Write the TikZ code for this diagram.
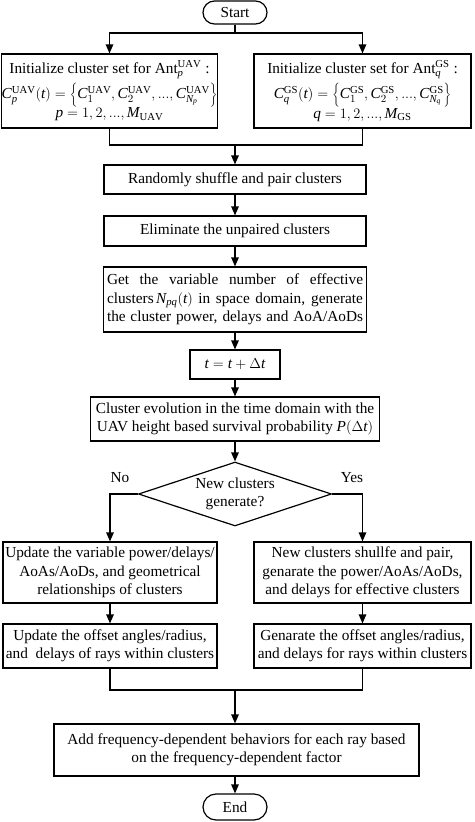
\documentclass[tikz,border=0pt]{standalone}
\usepackage{fontspec}
\setmainfont{Liberation Serif}
\usetikzlibrary{arrows.meta,shapes.geometric,shapes.misc}
\begin{document}
\begin{tikzpicture}[x=1pt,y=-1pt,
  every node/.style={font=\fontsize{15.3pt}{18.5pt}\selectfont, inner sep=0pt},
  box/.style={draw, line width=1.2pt, align=center, rectangle},
  term/.style={draw, line width=1.2pt, rounded rectangle},
  arr/.style={line width=1.2pt, -{Triangle[length=9pt,width=7.5pt]}},
  ln/.style={line width=1.2pt}]
\fill[white] (0,0) rectangle (474,822);
\useasboundingbox (0,0) rectangle (474,822);

\node[term, minimum width=64pt, minimum height=23pt] (start) at (235,12.5) {Start};

\node[box, minimum width=214pt, minimum height=74pt] (init1) at (109.5,91)
 {Initialize cluster set for Ant$_{\mathit{p}}^{\mathrm{UAV}}$ :\\[3pt]
  $\mathit{C}_{\mathit{p}}^{\mathrm{UAV}}(\mathit{t})=\left\{\mathit{C}_1^{\mathrm{UAV}},\mathit{C}_2^{\mathrm{UAV}},...,\mathit{C}_{\mathit{N}_{\mathit{p}}}^{\mathrm{UAV}}\right\}$\\[1pt]
  $\mathit{p}=1,2,...,\mathit{M}_{\mathrm{UAV}}$};
\node[box, minimum width=217pt, minimum height=74pt] (init2) at (362.5,91)
 {Initialize cluster set for Ant$_{\mathit{q}}^{\mathrm{GS}}$ :\\[3pt]
  $\mathit{C}_{\mathit{q}}^{\mathrm{GS}}(\mathit{t})=\left\{\mathit{C}_1^{\mathrm{GS}},\mathit{C}_2^{\mathrm{GS}},...,\mathit{C}_{\mathit{N}_{\mathit{q}}}^{\mathrm{GS}}\right\}$\\[1pt]
  $\mathit{q}=1,2,...,\mathit{M}_{\mathrm{GS}}$};

\node[box, minimum width=262pt, minimum height=29pt] (shuffle) at (235,179.5) {Randomly shuffle and pair clusters};
\node[box, minimum width=262pt, minimum height=30pt] (elim) at (235,231) {Eliminate the unpaired clusters};
\node[box, minimum width=263pt, minimum height=65pt] (getvar) at (235,299.5)
 {\makebox[256pt][s]{Get the variable number of effective}\\
  \makebox[256pt][s]{clusters$\,\mathit{N}_{\mathit{pq}}(\mathit{t})$ in space domain, generate}\\
  \makebox[256pt][s]{the cluster power, delays and AoA/AoDs}};
\node[box, minimum width=90pt, minimum height=29pt] (tupd) at (235,364.5) {$\mathit{t}=\mathit{t}+\Delta\mathit{t}$};
\node[box, minimum width=289pt, minimum height=44pt] (evol) at (235,419)
 {Cluster evolution in the time domain with the\\
  UAV height based survival probability $\mathit{P}(\Delta\mathit{t})$};
\node[draw, line width=1.2pt, diamond, minimum width=193pt, minimum height=64pt] (dia) at (235,494) {};
\node[align=center] (diat) at (dia.center) {New clusters\\generate?};
\node (no) at (120,478) {No};
\node (yes) at (352,478) {Yes};

\node[box, minimum width=214pt, minimum height=61pt] (upd1) at (110,572.5)
 {Update the variable power/delays/\\AoAs/AoDs, and geometrical\\relationships of clusters};
\node[box, minimum width=217pt, minimum height=61pt] (new1) at (362.5,572.5)
 {New clusters shullfe and pair,\\genarate the power/AoAs/AoDs,\\and delays for effective clusters};
\node[box, minimum width=214pt, minimum height=44pt] (upd2) at (110,646)
 {Update the offset angles/radius,\\and\ \ delays of rays within clusters};
\node[box, minimum width=217pt, minimum height=44pt] (new2) at (362.5,646)
 {Genarate the offset angles/radius,\\and delays for rays within clusters};

\node[box, minimum width=365pt, minimum height=52pt] (addf) at (236.5,750)
 {Add frequency-dependent behaviors for each ray based\\on the frequency-dependent factor};
\node[term, minimum width=64pt, minimum height=26pt] (end) at (235,807) {End};

\coordinate (s1) at (235,33);
\coordinate (j1) at (235,145);
\coordinate (j2) at (235,690);
\draw[ln] (start.south) -- (s1);
\draw[arr] (s1) -| (init1.north);
\draw[arr] (s1) -| (init2.north);
\draw[ln] (init1.south) |- (j1);
\draw[ln] (init2.south) |- (j1);
\draw[arr] (j1) -- (shuffle.north);
\draw[arr] (shuffle.south) -- (elim.north);
\draw[arr] (elim.south) -- (getvar.north);
\draw[arr] (getvar.south) -- (tupd.north);
\draw[arr] (tupd.south) -- (evol.north);
\draw[arr] (evol.south) -- (dia.north);
\draw[arr] (dia.west) -| (upd1.north);
\draw[arr] (dia.east) -| (new1.north);
\draw[arr] (upd1.south) -- (upd2.north);
\draw[arr] (new1.south) -- (new2.north);
\draw[ln] (upd2.south) |- (j2);
\draw[ln] (new2.south) |- (j2);
\draw[arr] (j2) -- (j2 |- addf.north);
\draw[arr] (addf.south -| end.north) -- (end.north);
\end{tikzpicture}
\end{document}
